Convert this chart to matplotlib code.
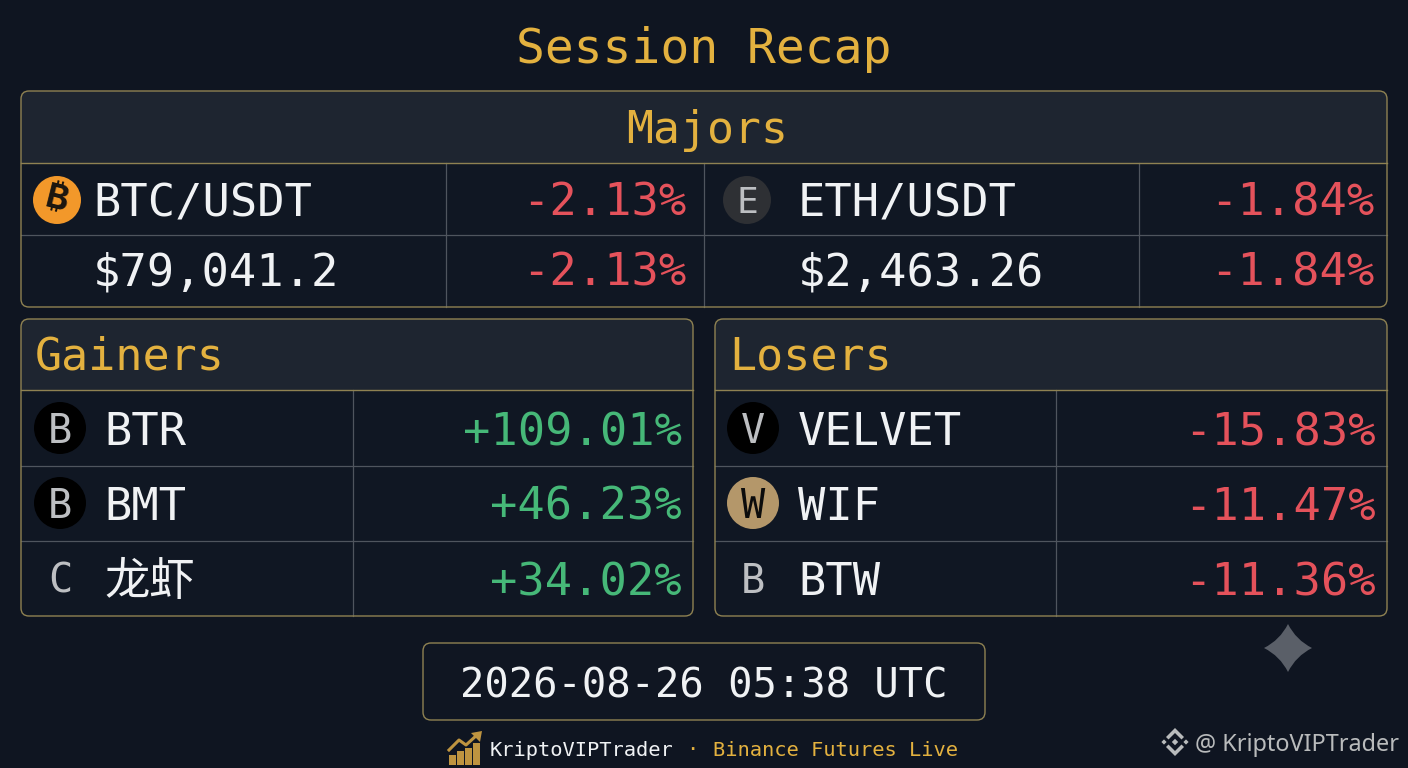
import matplotlib
matplotlib.use("Agg")
import matplotlib.pyplot as plt
from matplotlib.patches import FancyBboxPatch, Rectangle, Circle, PathPatch, Polygon
from matplotlib.path import Path

# data
title = "Session Recap"
majors_title = "Majors"
btc_name = "BTC/USDT"
btc_price = "$79,041.2"
btc_change = "-2.13%"
eth_name = "ETH/USDT"
eth_price = "$2,463.26"
eth_change = "-1.84%"

gainer_names = ["BTR", "BMT", "龙虾"]
gainer_values = ["+109.01%", "+46.23%", "+34.02%"]
gainer_icons = ["B", "B", "C"]

loser_names = ["VELVET", "WIF", "BTW"]
loser_values = ["-15.83%", "-11.47%", "-11.36%"]
loser_icons = ["V", "W", "B"]
loser_icon_fill = ["#000000", "#B4976A", None]
loser_icon_text = ["#BDBFC2", "#0C0C0C", "#BDBFC2"]
gainer_icon_fill = ["#000000", "#000000", None]

timestamp = "2026-08-26 05:38 UTC"
footer_left = "KriptoVIPTrader"
footer_right = "Binance Futures Live"
watermark = "@ KriptoVIPTrader"

BG = "#0F1521"
ROW = "#101723"
HEAD = "#1E2530"
GOLD = "#E3B13F"
EDGE = "#8F8252"
LINE = "#4F555E"
WHITE = "#F0F2F4"
RED = "#E5525B"
GREEN = "#46B878"
MONO = ["DejaVu Sans Mono", "Noto Sans CJK SC"]

fig = plt.figure(figsize=(14.08, 7.68), dpi=100, facecolor=BG)
ax = fig.add_axes([0, 0, 1, 1])
ax.set_xlim(0, 1408)
ax.set_ylim(768, 0)
ax.axis("off")


def label(x, y, s, size, color, ha="left", family=MONO, **kw):
    ax.text(x, y, s, fontsize=size, color=color, ha=ha, va="baseline", family=family, **kw)


def panel(x0, y0, x1, y1, head_bottom=None, fill=ROW):
    box = FancyBboxPatch((x0, y0), x1 - x0, y1 - y0, boxstyle="round,pad=0,rounding_size=8",
                         fc=fill, ec="none", zorder=1)
    ax.add_patch(box)
    if head_bottom:
        r = Rectangle((x0, y0), x1 - x0, head_bottom - y0, fc=HEAD, ec="none", zorder=1.1)
        ax.add_patch(r)
        r.set_clip_path(box)
        ax.plot([x0, x1], [head_bottom, head_bottom], color=EDGE, lw=1.0, zorder=3)
    ax.add_patch(FancyBboxPatch((x0, y0), x1 - x0, y1 - y0, boxstyle="round,pad=0,rounding_size=8",
                                fc="none", ec=EDGE, lw=1.0, zorder=4))


def hline(x0, x1, y):
    ax.plot([x0, x1], [y, y], color=LINE, lw=0.9, zorder=2)


def vline(x, y0, y1):
    ax.plot([x, x], [y0, y1], color=LINE, lw=0.9, zorder=2)


def icon(x, y, letter, fill, color, r=26, size=29):
    if fill:
        ax.add_patch(Circle((x, y), r, fc=fill, ec="none", zorder=3))
    # baseline sits half a cap height under the centre
    ax.text(x, y + 0.365 * size * 100 / 72, letter, fontsize=size, color=color, ha="center",
            va="baseline", family=MONO, zorder=5)


label(704, 63, title, 34.6, GOLD, ha="center")

# majors
panel(21, 91, 1387, 307, head_bottom=163)
label(707, 143, majors_title, 32.2, GOLD, ha="center")
hline(21, 1387, 235)
for vx in [446, 704, 1139]:
    vline(vx, 163, 307)

ax.add_patch(Circle((57, 200), 24, fc="#F2982A", ec="none", zorder=3))
ax.text(57, 200, "\u20bf", fontsize=25, color="#1A1510", ha="center", va="center",
        family=["Inter", "Roboto", "Noto Sans", "Open Sans", "Lato", "Liberation Sans"],
        fontweight="bold", rotation=-14, zorder=5)
label(93, 216, btc_name, 32.7, WHITE)
label(93, 286, btc_price, 32.7, WHITE)
label(686, 216, btc_change, 32.7, RED, ha="right")
label(686, 286, btc_change, 32.7, RED, ha="right")

icon(747, 200, "E", "#2E3034", "#BDBFC2", r=24, size=26)
label(798, 216, eth_name, 32.7, WHITE)
label(798, 286, eth_price, 32.7, WHITE)
label(1374, 216, eth_change, 32.7, RED, ha="right")
label(1374, 286, eth_change, 32.7, RED, ha="right")

# gainers and losers
row_base = [445, 520, 595]
row_mid = [428, 503, 578]
for px0, px1, heading, vx, names, values, icons, fills, texts, col, icx, namex, headx in [
    (21, 693, "Gainers", 353, gainer_names, gainer_values, gainer_icons, gainer_icon_fill,
     ["#BDBFC2"] * 3, GREEN, 60, 104, 35),
    (715, 1387, "Losers", 1056, loser_names, loser_values, loser_icons, loser_icon_fill,
     loser_icon_text, RED, 753, 798, 729),
]:
    panel(px0, 319, px1, 616, head_bottom=390)
    label(headx, 370, heading, 32.4, GOLD)
    hline(px0, px1, 466)
    hline(px0, px1, 541)
    vline(vx, 390, 616)
    for i in range(3):
        icon(icx, row_mid[i], icons[i], fills[i], texts[i])
        label(namex, row_base[i], names[i], 32.7, WHITE)
        label(px1 - 11, row_base[i], values[i], 32.7, col, ha="right")

# timestamp
panel(423, 643, 985, 720, fill="#101622")
label(704, 697, timestamp, 29.2, WHITE, ha="center")

# footer
label(490, 756, footer_left, 14.7, WHITE)
label(686, 755, "·", 14.7, GOLD, ha="left")
label(713, 756, footer_right, 14.7, GOLD)
ICON_GOLD = "#BE9440"
for bx, top in zip([449, 457, 465, 473], [755, 751, 748, 743]):
    ax.add_patch(Rectangle((bx, top), 6.5, 765 - top, fc=ICON_GOLD, ec="none", zorder=3))
ax.plot([449, 459, 466, 477], [750, 740, 745, 735], color=ICON_GOLD, lw=2.2, zorder=3)
ax.add_patch(Polygon([[482, 731], [471, 733], [480, 742]], fc=ICON_GOLD, ec="none", zorder=3))

# sparkle, sides pulled in towards the middle
sx, sy, sr, k = 1288, 648, 24, 8
verts = [(sx, sy - sr), (sx + k, sy - k), (sx + sr, sy), (sx + k, sy + k), (sx, sy + sr),
         (sx - k, sy + k), (sx - sr, sy), (sx - k, sy - k), (sx, sy - sr)]
codes = [Path.MOVETO] + [Path.CURVE3] * 8
ax.add_patch(PathPatch(Path(verts, codes), fc="#5A5F68", ec="none", zorder=3))

# watermark
wcol = "#B9BBBC"
cx, cy = 1175, 742
for sign in [-1, 1]:
    ax.add_patch(Polygon([[cx, cy + sign * 14], [cx + 9, cy + sign * 5], [cx + 6.5, cy + sign * 2.5],
                          [cx, cy + sign * 9], [cx - 6.5, cy + sign * 2.5], [cx - 9, cy + sign * 5]],
                         fc=wcol, ec="none", zorder=3))
for dx, d in [(-11, 2.6), (11, 2.6), (0, 3.2)]:
    ax.add_patch(Polygon([[cx + dx, cy - d], [cx + dx + d, cy], [cx + dx, cy + d], [cx + dx - d, cy]],
                         fc=wcol, ec="none", zorder=3))
label(1195, 751, watermark, 16.9, wcol, family="Noto Sans")

fig.savefig("out.png", dpi=100, facecolor=BG)
